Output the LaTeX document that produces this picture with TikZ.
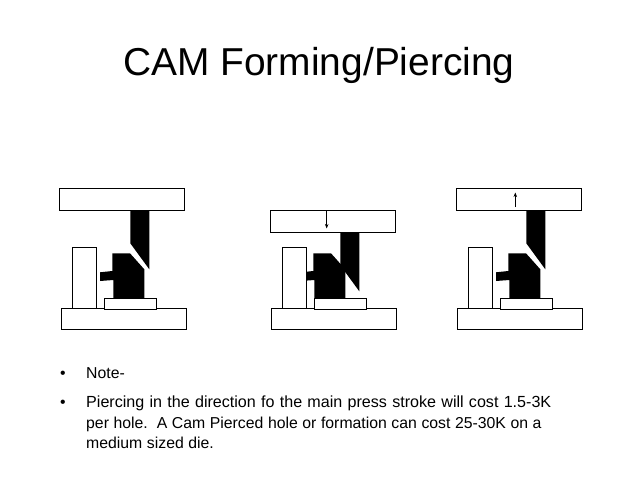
\documentclass[tikz,border=0pt]{standalone}
\usepackage{fontspec}
\setmainfont{Liberation Sans}
\usetikzlibrary{arrows.meta}
\begin{document}
\begin{tikzpicture}[x=1pt,y=-1pt]
        \tikzset{
            part/.style={draw=black,fill=white,line width=1pt},
            solid part/.style={fill=black},
            stroke/.style={-{Stealth[length=4.5pt,width=3.5pt]},line width=.7pt},
            body/.style={anchor=base west,inner sep=0pt,font=\fontsize{15.8}{20.5}\selectfont,align=left}
          }
        \useasboundingbox (0,0) rectangle (638,479);
        \fill[white] (0,0) rectangle (638,479);

        \node[anchor=base,inner sep=0pt,font=\fontsize{38.9}{44}\selectfont] (title) at (319,75) {CAM Forming/Piercing};

        % dx, ram travel, cam travel
        \foreach \dx/\ram/\cam/\pl in {0/0/0/0, 210/22/-9/1, 396/0/0/1} {
          \begin{scope}[xshift=\dx]
            \fill[solid part] (112.3+\cam,253.3) -- (130+\cam,253.3) -- (144.3+\cam,269.3) -- (144.3+\cam,298.3)
              -- (113.3+\cam,298.3) -- (113.3+\cam,280) -- (100+\cam,281) -- (100+\cam,272.3) -- (112.3+\cam,271) -- cycle;
            \fill[solid part] (130.3,210+\ram) -- (149.3,210+\ram) -- (149.3,269.3+\ram) -- (130.3,243.3+\ram) -- cycle;
            \draw[part] (59.3+\pl,188.6+\ram) rectangle (184.7+\pl,210.3+\ram);
            \draw[part] (72.3,247.3) rectangle (96.7,308.3);
            \draw[part] (61.3,308.3) rectangle (186.7,329.3);
            \draw[part] (104.3,298.3) rectangle (156.7,309.3);
          \end{scope}
        }

        \coordinate (down a) at (326.7,211);
        \coordinate (down b) at (326.7,228.5);
        \coordinate (up a) at (515.3,207);
        \coordinate (up b) at (515.3,192.5);
        \draw[stroke] (down a) -- (down b);
        \draw[stroke] (up a) -- (up b);

        \node[body] (bullet a) at (60,378.5) {•};
        \node[body] (note) at (86,378.5) {Note-};
        \node[body] (bullet b) at (60,407.5) {•};
        \node[body,text width=490] (text) at (86,407.5) {\fontsize{16.1}{20.5}\selectfont Piercing in the direction fo the main press stroke will cost 1.5-3K\\
          \fontsize{15.8}{20.5}\selectfont\spaceskip=4.57pt per hole.\hspace{9pt}A Cam Pierced hole or formation can cost 25-30K on a\\
          medium sized die.};
    \end{tikzpicture}
\end{document}
